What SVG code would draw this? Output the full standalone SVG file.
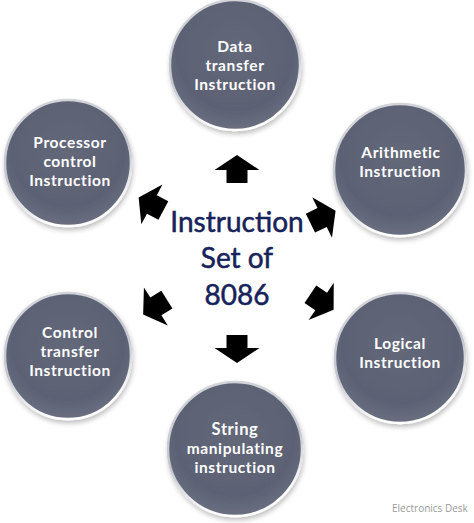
<svg xmlns="http://www.w3.org/2000/svg" xmlns:xlink="http://www.w3.org/1999/xlink" width="474" height="523" viewBox="0 0 474 523">
  <defs>
    <radialGradient id="cg" cx="50%" cy="40%" r="60%">
      <stop offset="0%" stop-color="#636879"/>
      <stop offset="75%" stop-color="#5c6174"/>
      <stop offset="100%" stop-color="#6a6f80"/>
    </radialGradient>
    <linearGradient id="rim" x1="0" y1="0" x2="0.3" y2="1">
      <stop offset="0%" stop-color="#d6d8dd"/>
      <stop offset="60%" stop-color="#c3c6cd"/>
      <stop offset="100%" stop-color="#ffffff"/>
    </linearGradient>
    <filter id="sh" x="-20%" y="-20%" width="140%" height="140%">
      <feGaussianBlur in="SourceAlpha" stdDeviation="2.5"/>
      <feOffset dx="1" dy="3" result="b"/>
      <feComponentTransfer><feFuncA type="linear" slope="0.25"/></feComponentTransfer>
      <feMerge><feMergeNode/><feMergeNode in="SourceGraphic"/></feMerge>
    </filter>
    <path id="arr" d="M0,-14 L22.5,1 L10.5,1 L10.5,14 L-10.5,14 L-10.5,1 L-22.5,1 Z"/>
  </defs>
  <style>
    .circ { fill: url(#cg); stroke: url(#rim); stroke-width: 2.5; filter: url(#sh); }
    .lbl { font-family: Lato, "Liberation Sans", sans-serif; font-weight: bold; font-size: 15.5px; letter-spacing: 0.6px; fill: #ffffff; text-anchor: middle; }
    .ctr { font-family: Lato, "Open Sans", sans-serif; font-size: 28px; fill: #16225a; stroke: #16225a; stroke-width: 0.5; text-anchor: middle; }
    .arrow { fill: #000000; }
    .wm { font-family: "Open Sans", "Liberation Sans", sans-serif; font-size: 10px; fill: #9a9a9a; }
  </style>
  <rect width="474" height="523" fill="#ffffff"/>

  <g id="connectors">
    <use xlink:href="#arr" class="arrow" transform="translate(237,169)"/>
    <use xlink:href="#arr" class="arrow" transform="translate(237,349) rotate(180)"/>
    <use xlink:href="#arr" class="arrow" transform="translate(151,204) rotate(-62)"/>
    <use xlink:href="#arr" class="arrow" transform="translate(323,217) rotate(64)"/>
    <use xlink:href="#arr" class="arrow" transform="translate(155,307) rotate(-122)"/>
    <use xlink:href="#arr" class="arrow" transform="translate(322,302) rotate(124)"/>
  </g>

  <g id="center">
    <text class="ctr" x="237" y="232">Instruction</text>
    <text class="ctr" x="237" y="268">Set of</text>
    <text class="ctr" x="237" y="305">8086</text>
  </g>

  <g id="data-transfer">
    <circle class="circ" cx="235" cy="65" r="65"/>
    <text class="lbl" x="235" y="52">Data</text>
    <text class="lbl" x="235" y="71">transfer</text>
    <text class="lbl" x="235" y="90">Instruction</text>
  </g>

  <g id="processor-control">
    <circle class="circ" cx="68" cy="163" r="63"/>
    <text class="lbl" x="70" y="148">Processor</text>
    <text class="lbl" x="70" y="167">control</text>
    <text class="lbl" x="70" y="186">Instruction</text>
  </g>

  <g id="arithmetic">
    <circle class="circ" cx="400" cy="170" r="66"/>
    <text class="lbl" x="401" y="158">Arithmetic</text>
    <text class="lbl" x="400" y="177">Instruction</text>
  </g>

  <g id="control-transfer">
    <circle class="circ" cx="68" cy="356" r="63"/>
    <text class="lbl" x="70" y="338">Control</text>
    <text class="lbl" x="70" y="357">transfer</text>
    <text class="lbl" x="70" y="376">Instruction</text>
  </g>

  <g id="logical">
    <circle class="circ" cx="400" cy="358" r="65"/>
    <text class="lbl" x="400" y="349">Logical</text>
    <text class="lbl" x="400" y="368">Instruction</text>
  </g>

  <g id="string">
    <circle class="circ" cx="235" cy="449" r="67"/>
    <text class="lbl" x="235" y="435" style="font-size:16.5px">String</text>
    <text class="lbl" x="235" y="454">manipulating</text>
    <text class="lbl" x="235" y="473">instruction</text>
  </g>

  <text class="wm" x="392" y="512">Electronics Desk</text>
</svg>
